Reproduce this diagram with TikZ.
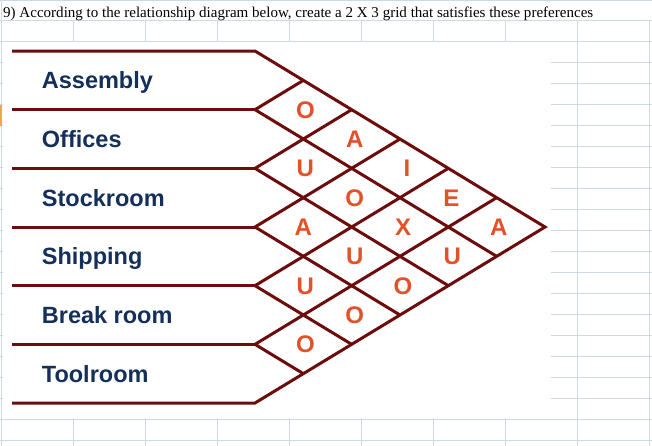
\documentclass[tikz,border=0pt]{standalone}
\usepackage{fontspec}
\setmainfont{Liberation Serif}
\newfontfamily\lsans{Liberation Sans}
\definecolor{gridc}{RGB}{208,215,229}
\definecolor{maroonc}{RGB}{108,12,12}
\definecolor{navyc}{RGB}{20,48,90}
\definecolor{letc}{RGB}{228,80,40}
\definecolor{selc}{RGB}{245,165,60}
\begin{document}
\begin{tikzpicture}[x=1pt,y=-1pt,
  relline/.style={draw=maroonc, line width=3pt, line join=miter, line cap=butt},
  dept/.style={anchor=west, inner sep=0pt, text height=16.8pt, text depth=0pt,
    font=\lsans\bfseries\fontsize{23.5}{24}\selectfont, text=navyc},
  rating/.style={inner sep=0pt, text height=17pt, text depth=0pt,
    font=\lsans\bfseries\fontsize{24}{24}\selectfont, text=letc},
  gridline/.style={draw=gridc, line width=1pt}]
\useasboundingbox (0,0) rectangle (652,445);
\fill[white] (0,0) rectangle (652,445);
% spreadsheet grid
\draw[gridline] (0,0.5) -- (652,0.5);
\foreach \j in {0,...,20} \draw[gridline] (0,{20.7+21*\j}) -- (652,{20.7+21*\j});
\foreach \k in {0,...,9} \draw[gridline] ({1+72.06*\k},21) -- ({1+72.06*\k},445);
\draw[gridline] (1,0) -- (1,21);
% picture area
\fill[white] (3,42) rectangle (551,418);
\fill[selc] (0,105) rectangle (2,126);
% title
\node[anchor=base west, inner sep=0pt] (title) at (3,17.5)
  {\resizebox{590pt}{!}{9) According to the relationship diagram below, create a 2 X 3 grid that satisfies these preferences}};
% relationship chart
\def\w{48.333}
\def\h{29.333}
\foreach \i in {0,...,6} {
  \coordinate (L\i) at (12,{51+2*\h*\i});
  \coordinate (P\i) at (255,{51+2*\h*\i});
  \coordinate (U\i) at ({255+\i*\w},{51+\i*\h});
  \coordinate (D\i) at ({255+(6-\i)*\w},{51+6*\h+\i*\h});
}
\coordinate (apex) at (545,227);
\draw[relline] (L0) -- (P0) -- (apex) -- (P6) -- (L6);
\foreach \i in {1,...,5} {
  \draw[relline] (L\i) -- (P\i);
  \draw[relline] (U\i) -- (P\i) -- (D\i);
}
% departments
\foreach \a/\t in {1/Assembly,2/Offices,3/Stockroom,4/Shipping,5/Break room,6/Toolroom}
  \node[dept] (d\a) at (41.7,{51+(2*\a-1)*\h}) {\t};
% ratings
\foreach \a/\b/\r/\dx in {1/2/O/2,2/3/U/2,3/4/A/0,4/5/U/2,5/6/O/2,
                           1/3/A/3,2/4/O/3,3/5/U/3,4/6/O/3,
                           1/4/I/7,2/5/X/3,3/6/O/3,
                           1/5/E/3,2/6/U/4,
                           1/6/A/2}
  \node[rating] (r\a\b) at ({255+(\b-\a)*\w+\dx},{51+(\a+\b-1)*\h}) {\r};
\end{tikzpicture}
\end{document}
